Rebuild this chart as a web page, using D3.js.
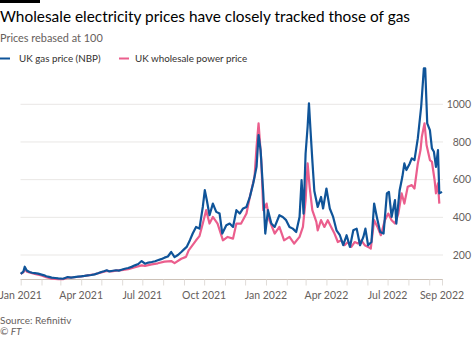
<!DOCTYPE html>
<html>
<head>
<meta charset="utf-8">
<script src="https://cdn.jsdelivr.net/npm/d3@7"></script>
<style>
  body { margin: 0; background: #fff; }
  svg text { font-family: Lato, "Noto Sans", sans-serif; }
</style>
</head>
<body>
<svg id="chart" width="474" height="338"></svg>
<script>
"use strict";

// UK gas price (NBP), rebased to 100 on 1 Jan 2021
const gasPrice = [
  ["2021-01-01", 100], ["2021-01-05", 112], ["2021-01-07", 138], ["2021-01-10", 118],
  ["2021-01-14", 110], ["2021-01-18", 106], ["2021-01-22", 104], ["2021-01-27", 101],
  ["2021-02-01", 96], ["2021-02-05", 92], ["2021-02-08", 87], ["2021-02-12", 84],
  ["2021-02-16", 80], ["2021-02-21", 78], ["2021-02-26", 76], ["2021-03-05", 74],
  ["2021-03-09", 79], ["2021-03-12", 83], ["2021-03-17", 80], ["2021-03-22", 83],
  ["2021-03-27", 85], ["2021-04-01", 87], ["2021-04-06", 89], ["2021-04-11", 92],
  ["2021-04-16", 94], ["2021-04-21", 97], ["2021-04-26", 103], ["2021-05-01", 110],
  ["2021-05-05", 114], ["2021-05-09", 119], ["2021-05-13", 113], ["2021-05-16", 115],
  ["2021-05-23", 119], ["2021-05-27", 117], ["2021-05-31", 122], ["2021-06-05", 127],
  ["2021-06-10", 131], ["2021-06-15", 137], ["2021-06-20", 145], ["2021-06-25", 152],
  ["2021-06-30", 168], ["2021-07-05", 154], ["2021-07-10", 160], ["2021-07-15", 163],
  ["2021-07-20", 167], ["2021-07-24", 172], ["2021-07-29", 178], ["2021-08-03", 186],
  ["2021-08-08", 192], ["2021-08-13", 216], ["2021-08-18", 189], ["2021-08-23", 200],
  ["2021-08-28", 216], ["2021-09-01", 230], ["2021-09-05", 243], ["2021-09-10", 280],
  ["2021-09-14", 314], ["2021-09-19", 349], ["2021-09-24", 340], ["2021-09-29", 455],
  ["2021-10-02", 544], ["2021-10-05", 491], ["2021-10-09", 411], ["2021-10-14", 473],
  ["2021-10-19", 429], ["2021-10-24", 420], ["2021-10-28", 314], ["2021-11-03", 358],
  ["2021-11-08", 367], ["2021-11-13", 349], ["2021-11-18", 438], ["2021-11-23", 420],
  ["2021-11-28", 447], ["2021-12-03", 455], ["2021-12-08", 508], ["2021-12-13", 580],
  ["2021-12-18", 668], ["2021-12-21", 837], ["2021-12-24", 757], ["2021-12-28", 527],
  ["2021-12-31", 314], ["2022-01-04", 438], ["2022-01-09", 367], ["2022-01-14", 349],
  ["2022-01-21", 411], ["2022-01-26", 402], ["2022-01-31", 385], ["2022-02-05", 349],
  ["2022-02-10", 340], ["2022-02-15", 322], ["2022-02-20", 402], ["2022-02-23", 597],
  ["2022-02-26", 420], ["2022-03-01", 739], ["2022-03-04", 881], ["2022-03-06", 1005],
  ["2022-03-08", 881], ["2022-03-11", 704], ["2022-03-14", 540], ["2022-03-19", 455],
  ["2022-03-24", 508], ["2022-03-27", 447], ["2022-04-01", 553], ["2022-04-06", 447],
  ["2022-04-11", 402], ["2022-04-16", 331], ["2022-04-21", 305], ["2022-04-26", 252],
  ["2022-05-01", 305], ["2022-05-06", 243], ["2022-05-11", 331], ["2022-05-16", 340],
  ["2022-05-21", 252], ["2022-05-26", 296], ["2022-05-29", 340], ["2022-06-02", 252],
  ["2022-06-07", 269], ["2022-06-11", 473], ["2022-06-15", 402], ["2022-06-20", 322],
  ["2022-06-25", 314], ["2022-06-30", 527], ["2022-07-03", 535], ["2022-07-07", 402],
  ["2022-07-12", 491], ["2022-07-14", 367], ["2022-07-19", 544], ["2022-07-23", 615],
  ["2022-07-26", 686], ["2022-07-29", 651], ["2022-08-03", 686], ["2022-08-06", 713],
  ["2022-08-10", 704], ["2022-08-15", 819], ["2022-08-20", 987], ["2022-08-24", 1191],
  ["2022-08-26", 1191], ["2022-08-29", 899], ["2022-09-02", 863], ["2022-09-05", 766],
  ["2022-09-08", 748], ["2022-09-11", 668], ["2022-09-14", 757], ["2022-09-16", 527],
  ["2022-09-20", 535]
];

// UK wholesale power price, rebased to 100 on 1 Jan 2021
const powerPrice = [
  ["2021-01-01", 100], ["2021-01-05", 108], ["2021-01-07", 125], ["2021-01-10", 112],
  ["2021-01-14", 108], ["2021-01-22", 100], ["2021-02-01", 92], ["2021-02-08", 82],
  ["2021-02-16", 75], ["2021-02-26", 72], ["2021-03-05", 72], ["2021-03-12", 80],
  ["2021-03-22", 82], ["2021-04-01", 86], ["2021-04-11", 92], ["2021-04-21", 98],
  ["2021-05-01", 108], ["2021-05-09", 116], ["2021-05-16", 113], ["2021-05-23", 117],
  ["2021-05-31", 120], ["2021-06-10", 125], ["2021-06-20", 135], ["2021-06-30", 145],
  ["2021-07-05", 142], ["2021-07-15", 150], ["2021-07-24", 156], ["2021-08-03", 165],
  ["2021-08-13", 168], ["2021-08-18", 157], ["2021-08-28", 180], ["2021-09-04", 190],
  ["2021-09-08", 225], ["2021-09-19", 278], ["2021-09-24", 300], ["2021-09-29", 367],
  ["2021-10-04", 438], ["2021-10-09", 367], ["2021-10-14", 402], ["2021-10-21", 367],
  ["2021-10-29", 278], ["2021-11-05", 296], ["2021-11-13", 287], ["2021-11-18", 367],
  ["2021-11-25", 367], ["2021-12-03", 420], ["2021-12-08", 508], ["2021-12-15", 615],
  ["2021-12-18", 774], ["2021-12-21", 899], ["2021-12-25", 704], ["2021-12-28", 438],
  ["2022-01-02", 473], ["2022-01-06", 385], ["2022-01-14", 314], ["2022-01-21", 349],
  ["2022-01-28", 278], ["2022-02-05", 296], ["2022-02-12", 261], ["2022-02-20", 296],
  ["2022-02-25", 349], ["2022-03-01", 491], ["2022-03-04", 686], ["2022-03-07", 562],
  ["2022-03-11", 438], ["2022-03-17", 376], ["2022-03-19", 331], ["2022-03-24", 385],
  ["2022-03-29", 349], ["2022-04-03", 385], ["2022-04-08", 349], ["2022-04-13", 314],
  ["2022-04-18", 269], ["2022-04-23", 278], ["2022-04-28", 252], ["2022-05-03", 269],
  ["2022-05-08", 243], ["2022-05-13", 269], ["2022-05-18", 261], ["2022-05-23", 278],
  ["2022-05-28", 252], ["2022-06-02", 243], ["2022-06-06", 234], ["2022-06-11", 385],
  ["2022-06-16", 349], ["2022-06-21", 305], ["2022-06-27", 385], ["2022-07-02", 420],
  ["2022-07-07", 385], ["2022-07-12", 367], ["2022-07-17", 420], ["2022-07-22", 527],
  ["2022-07-26", 473], ["2022-07-31", 562], ["2022-08-06", 571], ["2022-08-10", 553],
  ["2022-08-15", 686], ["2022-08-19", 757], ["2022-08-21", 828], ["2022-08-25", 899],
  ["2022-08-28", 784], ["2022-09-02", 704], ["2022-09-05", 695], ["2022-09-09", 597],
  ["2022-09-11", 527], ["2022-09-14", 580], ["2022-09-16", 473]
];

const yTicks = [200, 400, 600, 800, 1000];

const xLabels = [
  ["2021-01-01", "Jan 2021"], ["2021-04-01", "Apr 2021"], ["2021-07-01", "Jul 2021"],
  ["2021-10-01", "Oct 2021"], ["2022-01-01", "Jan 2022"], ["2022-04-01", "Apr 2022"],
  ["2022-07-01", "Jul 2022"], ["2022-09-20", "Sep 2022"]
];

const seriesNames = ["UK gas price (NBP)", "UK wholesale power price"];
const seriesColors = ["#0f5499", "#eb5e8d"];

const parse = d3.utcParse("%Y-%m-%d");
const toPoints = rows => rows.map(([d, v]) => ({ date: parse(d), value: v }));

const svg = d3.select("#chart");
const gridLeft = 20.5, gridRight = 443;
const startDate = parse("2021-01-01"), endDate = parse("2022-09-20");

const x = d3.scaleUtc()
  .domain([startDate, endDate])
  .range([20.7, 442]);

const y = d3.scaleLinear()
  .domain([70, 1000])
  .range([279.5, 104.3]);

// header
svg.append("rect").attr("x", 0).attr("y", 0).attr("width", 40).attr("height", 3).attr("fill", "#000");
svg.append("text")
  .attr("x", 0).attr("y", 22)
  .attr("font-size", 15.4)
  .attr("fill", "#000")
  .text("Wholesale electricity prices have closely tracked those of gas");
svg.append("text")
  .attr("x", 0).attr("y", 41.5)
  .attr("font-size", 10.9)
  .attr("fill", "#66605c")
  .text("Prices rebased at 100");

// legend
const legendLineX = [0, 119];
const legendTextX = [19, 135];
const legend = svg.append("g");
legend.selectAll("line")
  .data(seriesNames)
  .enter()
  .append("line")
  .attr("x1", (_, i) => legendLineX[i])
  .attr("x2", (_, i) => legendLineX[i] + 10)
  .attr("y1", 58.5).attr("y2", 58.5)
  .attr("stroke", (_, i) => seriesColors[i])
  .attr("stroke-width", 2);
legend.selectAll("text")
  .data(seriesNames)
  .enter()
  .append("text")
  .attr("x", (_, i) => legendTextX[i])
  .attr("y", 62)
  .attr("font-size", 9.8)
  .attr("fill", "#33302e")
  .text(s => s);

// gridlines and y labels
svg.append("g").selectAll("line")
  .data(yTicks)
  .enter()
  .append("line")
  .attr("x1", gridLeft).attr("x2", gridRight)
  .attr("y1", d => y(d)).attr("y2", d => y(d))
  .attr("stroke", "#e9e7e5")
  .attr("stroke-width", 1);
svg.append("g").selectAll("text")
  .data(yTicks)
  .enter()
  .append("text")
  .attr("x", 471)
  .attr("y", d => y(d))
  .attr("dy", "0.35em")
  .attr("text-anchor", "end")
  .attr("font-size", 10.5)
  .attr("fill", "#66605c")
  .text(d => d);

// x axis: a tick at every month plus the last day, labels on a few
const xAxis = d3.axisBottom(x)
  .tickValues(d3.utcMonth.range(startDate, endDate).concat([endDate]))
  .tickSize(6)
  .tickFormat("");
const axisG = svg.append("g")
  .attr("transform", "translate(0,279.5)")
  .call(xAxis);
axisG.select(".domain").attr("stroke", "#ccc1b7").attr("d", `M${gridLeft},0H${gridRight}`);
axisG.selectAll(".tick line").attr("stroke", "#e0dcd8");

svg.append("g").selectAll("text")
  .data(xLabels)
  .enter()
  .append("text")
  .attr("x", d => x(parse(d[0])))
  .attr("y", 298.5)
  .attr("text-anchor", "middle")
  .attr("font-size", 10.5)
  .attr("fill", "#66605c")
  .text(d => d[1]);

// the two series, power underneath
const line = d3.line()
  .x(d => x(d.date))
  .y(d => y(d.value));

[powerPrice, gasPrice].forEach((rows, i) => {
  svg.append("path")
    .datum(toPoints(rows))
    .attr("fill", "none")
    .attr("stroke", seriesColors[1 - i])
    .attr("stroke-width", 2.2)
    .attr("stroke-linejoin", "round")
    .attr("d", line);
});

// footer
svg.append("text")
  .attr("x", 0).attr("y", 324)
  .attr("font-size", 10)
  .attr("fill", "#66605c")
  .text("Source: Refinitiv");
svg.append("text")
  .attr("x", 0).attr("y", 335)
  .attr("font-size", 10)
  .attr("font-style", "italic")
  .attr("fill", "#66605c")
  .text("© FT");
</script>
</body>
</html>
